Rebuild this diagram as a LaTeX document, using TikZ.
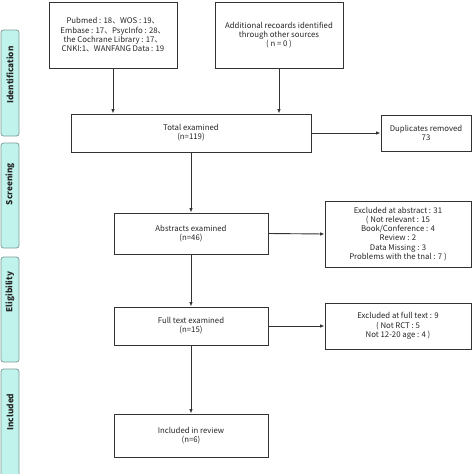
\documentclass[tikz,border=0pt]{standalone}
\usepackage{fontspec}
\setmainfont{Noto Sans CJK SC}
\usetikzlibrary{arrows.meta}
\definecolor{barfill}{HTML}{BFF3EC}
\definecolor{barline}{HTML}{7F9C98}
\definecolor{boxline}{HTML}{333333}
\tikzset{
  flowbox/.style={draw=boxline, line width=0.9pt, fill=white, align=center, inner sep=1pt,
    font=\fontsize{7.8}{9.3}\selectfont, text=black!85},
  sidebar/.style={draw=barline, line width=0.8pt, fill=barfill, rounded corners=2.5pt},
  sidelabel/.style={rotate=90, font=\bfseries\fontsize{8.3}{9}\selectfont, text=black!85},
  flowarrow/.style={draw=boxline, line width=0.9pt, -{Latex[length=4.5pt,width=3.5pt]}}
}
\begin{document}
\begin{tikzpicture}[x=1pt,y=-1pt]
\useasboundingbox (0,0) rectangle (474,474);
% side bars
\draw[sidebar] (1,30) rectangle (19,136);
\node[sidelabel] (lid) at (10,75) {Identification};
\draw[sidebar] (1,143) rectangle (19,248);
\node[sidelabel] (lsc) at (10,184) {Screening};
\draw[sidebar] (1,257) rectangle (19,362);
\node[sidelabel] (lel) at (10,292) {Eligibility};
\draw[sidebar] (1,369) rectangle (19,490);
\node[sidelabel] (lin) at (10,412) {Included};
% boxes
\node[flowbox, minimum width=128pt, minimum height=66pt] (db) at (113,35)
  {Pubmed : 18、WOS : 19、\\Embase : 17、PsycInfo : 28、\\the Cochrane Library : 17、\\CNKI:1、WANFANG Data : 19};
\node[flowbox, minimum width=128pt, minimum height=66pt] (add) at (279,35)
  {Additional recoards identified\\through other sources\\( n = 0 )};
\node[flowbox, minimum width=240pt, minimum height=38pt] (tot) at (191,133)
  {Total examined\\(n=119)};
\node[flowbox, minimum width=90pt, minimum height=36pt] (dup) at (426,133)
  {Duplicates removed\\73};
\node[flowbox, minimum width=154pt, minimum height=41pt] (abs) at (191,233.5)
  {Abstracts examined\\(n=46)};
\node[flowbox, minimum width=146pt, minimum height=66pt] (exa) at (398,234)
  {Excluded at abstract : 31\\( Not relevant : 15\\Book/Conference : 4\\Review : 2\\Data Missing : 3\\Problems with the tnal : 7 )};
\node[flowbox, minimum width=154pt, minimum height=38pt] (ful) at (191,326)
  {Full text examined\\(n=15)};
\node[flowbox, minimum width=146pt, minimum height=46pt] (exf) at (398,326)
  {Excluded at full text : 9\\( Not RCT : 5\\Not 12-20 age : 4 )};
\node[flowbox, minimum width=154pt, minimum height=43pt] (inc) at (191,435.5)
  {Included in review\\(n=6)};
% arrows
\draw[flowarrow] (db.south) -- (db.south |- tot.north);
\draw[flowarrow] (add.south) -- (add.south |- tot.north);
\draw[flowarrow] (tot.east) -- (dup.west);
\draw[flowarrow] (tot.south) -- (abs.north);
\draw[flowarrow] (abs.east) -- (exa.west);
\draw[flowarrow] (abs.south) -- (ful.north);
\draw[flowarrow] (ful.east) -- (exf.west);
\draw[flowarrow] (ful.south) -- (inc.north);
\end{tikzpicture}
\end{document}
